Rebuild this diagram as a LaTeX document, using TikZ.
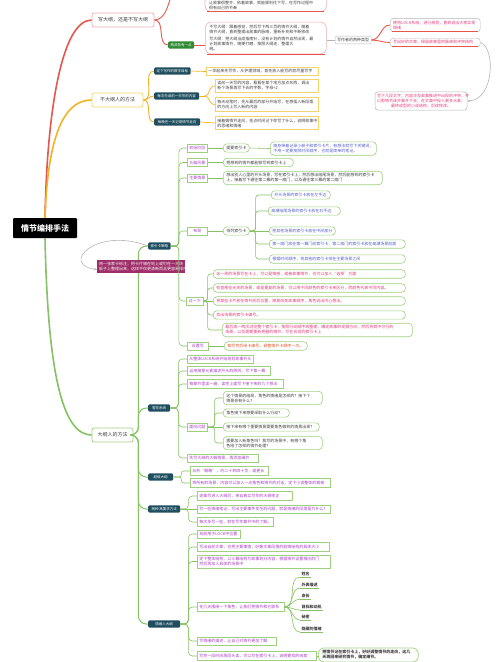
\documentclass[tikz,border=0pt]{standalone}
\usepackage{fontspec}
\setmainfont{Noto Sans CJK SC}
\usetikzlibrary{arrows.meta}
\definecolor{gL}{HTML}{86C263}
\definecolor{gB}{HTML}{9FD07F}
\definecolor{rL}{HTML}{E4574C}
\definecolor{oL}{HTML}{F2B225}
\definecolor{yB}{HTML}{F2D36E}
\definecolor{tagC}{HTML}{1F4E60}
\definecolor{tagG}{HTML}{2E8B34}
\definecolor{purT}{HTML}{A63FC4}
\definecolor{bluT}{HTML}{5560C8}
\definecolor{pnkT}{HTML}{E23C7C}
\definecolor{orT}{HTML}{E0562E}
\definecolor{dkT}{HTML}{404040}
\definecolor{plum}{HTML}{9E2E69}
\definecolor{grA}{HTML}{B5B5B5}
\definecolor{pkB}{HTML}{F0AEB0}
\newcommand\elb[5]{\draw[#1, rounded corners=#5] (#2.east) -- ++(#4,0) |- (#3.west);}
\newcommand\crv[3]{\draw[#1] (#2.east) to[out=0,in=180] (#3.west);}
\newcommand\uline[2]{\draw[#1] ([xshift=2pt]#2.south west) -- ([xshift=-2pt]#2.south east);}
\begin{document}
\begin{tikzpicture}[x=1pt,y=-1pt,
  tx/.style={font=\fontsize{4}{5}\selectfont, align=left, inner xsep=2pt, inner ysep=2.3pt, anchor=west, text=dkT},
  gr/.style={tx, draw=gB, line width=0.6pt, fill=white},
  grr/.style={gr, rounded corners=3.5pt, inner xsep=3pt},
  lab/.style={gr, text=purT, minimum width=20pt, align=center},
  tag/.style={tx, font=\fontsize{3.5}{4.5}\selectfont, fill=tagC, text=white, rounded corners=1.2pt, inner xsep=2.5pt, inner ysep=2pt, align=center},
  yb/.style={tx, draw=yB, line width=0.7pt, fill=white},
  mainbox/.style={tx, anchor=center, font=\fontsize{5}{6}\selectfont, fill=white, line width=0.8pt, rounded corners=2pt, minimum height=14pt, align=center},
  gl/.style={draw=gL, line width=0.6pt},
  gt/.style={draw=gL, line width=1pt},
  ol/.style={draw=oL, line width=0.9pt},
  rl/.style={draw=rL, line width=0.9pt},
  ga/.style={draw=grA, line width=0.6pt, -{Stealth[length=3pt,width=2.5pt]}},
  nm/.style={tx, anchor=south west, font=\fontsize{4}{5}\selectfont\bfseries, inner xsep=1.5pt, inner ysep=1.2pt}
]
\useasboundingbox (0,0) rectangle (500,662);

% ---------- root and main branches
\node[anchor=center, fill=black, text=white, font=\fontsize{8}{9}\selectfont\bfseries, minimum width=64pt, minimum height=20pt, rounded corners=1pt] (R) at (45,228) {情节编排手法};
\node[mainbox, draw=pkB, minimum width=62pt] (W) at (123,20) {写大纲，还是不写大纲};
\node[mainbox, draw=yB, minimum width=51pt] (N) at (117.5,100) {不大纲人的方法};
\node[mainbox, draw=gB, minimum width=41pt] (D) at (112.5,435) {大纲人的方法};
\draw[rL, line width=1.6pt] (R.north) .. controls (47,110) and (62,20) .. (W.west);
\draw[oL, line width=1.6pt] (R.north) .. controls (48,130) and (66,100) .. (N.west);
\draw[gL, line width=1.6pt] (R.south) .. controls (48,380) and (64,435) .. (D.west);

% ---------- top (red) section
\node[tx, anchor=south west, text width=113pt, inner xsep=4pt, inner ysep=1.3pt] (TB) at (205,11.5) {让故事很整齐，依着故事，就能顺利往下写，在写作过程中\\很有自己的节奏};
\draw[pkB, line width=0.6pt, rounded corners=6pt] (TB.north west) ++(0,-20) -- (TB.south west) -- (TB.south east) -- ++(0,-30);
\uline{rL, line width=1pt}{TB}
\coordinate (Wup) at (172,-8);
\draw[rl] (W.east) .. controls (164,20) and (168,8) .. (Wup);
\node[tag, fill=tagG] (G) at (168,45) {两派各有一点};
\draw[rl] (W.east) to[out=0,in=180] (G.west);
\node[tx, draw=pkB, line width=0.6pt, rounded corners=6pt, text width=113pt, inner xsep=4pt, inner ysep=3pt] (X) at (205,38) {不写大纲：跟着感觉，然后写下两三页的情节大纲，随着\\情节大纲，直到整理出故事的脉络，重新补充和不断修改\\[2pt]写大纲：把大纲当成指南针，没有计划的情节自然出现，最\\计划故事情节，随便打磨，按照大纲走，整理大\\纲。};
\uline{rL, line width=1pt}{X}
\draw[rl] (G.east) -- (G.east -| X.west);
\node[tx, draw=grA, line width=0.4pt, rounded corners=1pt, inner ysep=2pt] (WT) at (335,40) {写作者的两种类型};
\draw[grA, line width=0.6pt] (X.east |- WT.west) -- (WT.west);
\node[tx, text=pnkT, draw=grA, line width=0.4pt, rounded corners=3pt, text width=84pt, inner xsep=3pt] (WC1) at (390,25) {使用LOCK系统，进行规划，直到说出大家实现\\情绪};
\uline{rL, line width=1pt}{WC1}
\node[tx, text=pnkT, draw=grA, line width=0.4pt, rounded corners=3pt, text width=84pt, inner xsep=3pt] (WC2) at (390,42.5) {写出好的文章，保留故事里的脉络和冲突结构};
\uline{rL, line width=1pt}{WC2}
\crv{rl}{WT}{WC1}
\crv{rl}{WT}{WC2}
\node[tx, anchor=center, align=center, text=pnkT, draw=grA, line width=0.5pt, rounded corners=3pt, text width=88pt] (PB) at (421,101) {写下几段文字，内容涉及故事推进中出现的冲突，并\\以那情节逐步展开下去，在文章中投入更多元素，\\最终成型的小说结构，后续修改。};
\draw[ga] (WC2.east) .. controls (496,48) and (494,100) .. (PB.east);

% ---------- orange section
\node[tag, minimum width=34pt] (T1) at (154,71) {定下写作的数字目标};
\node[tag, minimum width=45pt] (T2) at (154,96) {每次先读前一天写的内容};
\node[tag, minimum width=46pt] (T3) at (154,122) {每晚在一天记录情节走向};
\crv{ol}{N}{T1}
\crv{ol}{N}{T2}
\crv{ol}{N}{T3}
\node[yb, text width=108pt] (Y1) at (206,71.5) {一早起来先写作，从护理领域，首先放入能写的就尽量写字};
\draw[ol, line width=0.7pt] (T1.east) -- (Y1.west);
\node[yb, text width=99pt] (Y2a) at (215,86) {读前一天写的内容，看看在某个地方加点东西，调出\\新个场景再写下去的字数，字母+2};
\node[yb, text width=99pt] (Y2b) at (215,104.5) {每天动笔时，先从最后的部分开始写，在想插入新段落\\的方向上写入新的内容};
\coordinate (Bk) at (205,96);
\draw[ol, line width=0.7pt] (T2.east) -- (Bk);
\draw[ol, line width=0.7pt] (Y2a.west) .. controls (208,86) and (210,96) .. (Bk) .. controls (210,96) and (208,104.5) .. (Y2b.west);
\node[yb, text width=99pt] (Y3) at (215,123) {接着做情节走向，花点时间记下你写了什么，说明故事中\\的思绪和情绪};
\draw[ol, line width=0.7pt] (T3.east) -- (Y3.west);

% ---------- green tags from D
\node[tag] (S0) at (148,246) {索引卡策略};
\node[tag, minimum width=22pt] (S1) at (148,408) {雪花系统};
\node[tag, minimum width=25pt] (S2) at (148,477) {超级大纲};
\node[tag, minimum width=32pt] (S3) at (148,509) {两种 高要求方法};
\node[tag, minimum width=32pt] (S4) at (148,624) {情绪人大纲};
\elb{gt}{D}{S0}{5}{8pt}
\elb{gt}{D}{S1}{5}{8pt}
\elb{gt}{D}{S2}{5}{8pt}
\elb{gt}{D}{S3}{5}{8pt}
\elb{gt}{D}{S4}{5}{8pt}

% ---------- index card strategy
\node[tx, fill=plum, text=white, text width=84pt, inner ysep=2.5pt] (P) at (97,266.5) {用一张索卡标注，把卡片铺在地上或钉在一大块\\板子上整理出来，这样不仅更清晰而且更容易排序};
\draw[ga] (S0.west) .. controls (95,226) and (60,265) .. ([yshift=-3pt]P.west);

\node[lab] (K1) at (187,148) {初始阶段};
\node[lab] (K2) at (187,162.5) {头脑风暴};
\node[lab] (K3) at (187,178) {主要情景};
\node[lab] (K4) at (187,231) {布局};
\node[lab, minimum width=17pt] (K5) at (186,301) {过一下};
\node[lab, minimum width=21pt] (K6) at (187,346) {设置写};
\foreach \k in {K1,K2,K3,K4,K5,K6}{\elb{gl}{S0}{\k}{8}{4pt}}

\node[grr] (K1a) at (223,148) {提要索引卡};
\node[grr, text=bluT, text width=100pt] (K1b) at (270,148.5) {随身带着记录小册子和索引卡片，有想法就写下关键词，\\不用一定要按照时间顺序，也就是简单的笔记。};
\draw[gl] (K1.east) -- (K1a.west);
\draw[gl] (K1a.east) -- (K1b.west);
\node[grr, text width=64pt] (K2a) at (223,162.5) {把想到的情节都能够写到索引卡上};
\draw[gl] (K2.east) -- (K2a.west);
\node[grr, text width=153pt] (K3a) at (223,178) {想出别人心里的开头场景，写在索引卡上，然后想出结尾场景，然后能想到的索引卡\\上，接着写下通往第二幕的第一扇门，以及通往第三幕的第二扇门};
\draw[gl] (K3.east) -- (K3a.west);
\node[grr] (K4a) at (223,231) {排列索引卡};
\draw[gl] (K4.east) -- (K4a.west);
\node[grr, text=bluT, text width=53pt] (K4b1) at (271,195) {开头场景的索引卡放在左手边};
\node[grr, text=bluT, text width=66pt] (K4b2) at (268,211) {高潮结尾场景的索引卡放在右手边};
\node[grr, text=bluT, text width=60pt] (K4b3) at (269,231) {把其他场景的索引卡放在中间部分};
\node[grr, text=bluT, text width=130pt] (K4b4) at (269,244) {第一扇门放在第一幕门前索引卡，第二扇门的索引卡放在高潮场景前面};
\node[grr, text=bluT, text width=130pt] (K4b5) at (269,259) {根据时间顺序，将其他的索引卡排在主要场景之间};
\elb{gl}{K4a}{K4b1}{6}{3pt}
\elb{gl}{K4a}{K4b2}{6}{3pt}
\draw[gl] (K4a.east) -- (K4b3.west);
\elb{gl}{K4a}{K4b4}{6}{3pt}
\elb{gl}{K4a}{K4b5}{6}{3pt}
\node[grr, text=pnkT, text width=186pt] (K5b1) at (213,274) {这一周的场景写在卡上，可以是情感，或者故事情节，也可以加入“选择”方面};
\node[grr, text=pnkT, text width=186pt] (K5b2) at (213,288) {检查那些无关的场景，或是重复的场景，可以用不同颜色的索引卡来区分，而颜色代表不同内容。};
\node[grr, text=pnkT, text width=186pt] (K5b3) at (213,301) {将某些卡片放在情节前后位置，随意改变故事顺序，角色说出内心想法。};
\node[grr, text=pnkT, text width=186pt] (K5b4) at (213,315) {找出场景的索引卡编号。};
\node[grr, text=pnkT, text width=184pt] (K5b5) at (222,330) {最后再一两次浏览整个索引卡，按照行动顺序再整理，确定故事的发展方向，然后将其中可行的\\场景，以及需要重新把握的情节，写在合适的索引卡上};
\elb{gl}{K5}{K5b1}{4}{3pt}
\elb{gl}{K5}{K5b2}{4}{3pt}
\draw[gl] (K5.east) -- (K5b3.west);
\elb{gl}{K5}{K5b4}{4}{3pt}
\elb{gl}{K5}{K5b5}{4}{3pt}
\node[grr, text=orT, text width=77pt] (K6a) at (224,346) {每写完后给卡编号，调整情节卡顺序一次。};
\draw[gl] (K6.east) -- (K6a.west);

% ---------- snowflake
\node[gr, text=purT, text width=62pt] (L1) at (187,359) {从整体LOCK系统开始规划故事开头};
\node[gr, text=purT, text width=79pt] (L2) at (187,371) {运用随意元素描述开头的原则，写下第一幕};
\node[gr, text=purT, text width=92pt] (L3) at (187,384) {每章节里读一遍，读完上面写下接下来的几个想法};
\node[lab] (L4) at (187,427) {面向问题};
\node[gr, text=purT, text width=67pt] (L5) at (187,458) {先写大纲的大概情景，再添加细节};
\foreach \k in {L1,L2,L3,L4,L5}{\elb{gl}{S1}{\k}{8}{4pt}}
\node[grr, text width=93pt] (Q1) at (223,398) {这个情景的结局，角色的情绪是怎样的？接下个\\情景会有什么？};
\node[grr, text width=60pt] (Q2) at (223,413) {角色接下来想要采取什么行动？};
\node[grr, text width=90pt] (Q3) at (223,427) {接下来有哪个重要情景需要角色做到的情景出现？};
\node[grr, text width=93pt] (Q4) at (223,443) {需要加入新角色吗？我写的场景中，有哪个角\\色给了怎样的情节处理？};
\elb{gl}{L4}{Q1}{7}{3pt}
\elb{gl}{L4}{Q2}{7}{3pt}
\draw[gl] (L4.east) -- (Q3.west);
\elb{gl}{L4}{Q4}{7}{3pt}

% ---------- super outline
\node[gr, text=purT, text width=74pt] (M1) at (190,471) {五秒“概略”，约二十到四十页，或更长};
\node[gr, text=purT, text width=136pt] (M2) at (190,483) {将所有的场景，内容可以加入一点角色和情节的对话，定下小说整体的框架};
\elb{gl}{S2}{M1}{8}{2.5pt}
\elb{gl}{S2}{M2}{8}{2.5pt}

% ---------- two methods
\node[gr, text=purT, text width=91pt] (R1) at (197,496) {逐章写进入大纲后，来自真实写作的大纲修正};
\node[gr, text=purT, text width=129pt] (R2) at (197,509) {写一些情绪笔记，写出主要事件发生的问题，就是情绪的段落是为什么？};
\node[gr, text=purT, text width=72pt] (R3) at (197,522) {每次多写一些，就在写作章节中的了解。};
\elb{gl}{S3}{R1}{8}{4pt}
\draw[gl] (S3.east) -- (R2.west);
\elb{gl}{S3}{R3}{8}{4pt}

% ---------- emotion outline
\node[gr, text=purT, text width=39pt] (E1) at (197,534) {目前用于LOCK中位置};
\node[gr, text=purT, text width=128pt] (E2) at (197,547) {写出自前文章，也把主要事情，好像文章段落的剧情结构的具体大小};
\node[gr, text=purT, text width=129pt] (E3) at (197,561.5) {定下整体结构，以三幕结构为故事划分内容，根据情节设置相应的门\\然后再加入具体的场景中};
\node[gr, text=purT, text width=83pt] (E4) at (197,607) {花几天围绕一下角色，让我们把情节和它联系};
\node[gr, text=purT, text width=75pt] (E5) at (197,641) {写情绪的描述，让自己对情节更加了解};
\node[gr, text=purT, text width=115pt] (E6) at (197,656) {写完一段时间再回头读，可以写在索引卡上，说明要找的线索};
\foreach \k in {E1,E2,E3,E4,E5,E6}{\elb{gl}{S4}{\k}{8}{4pt}}
\node[nm] (C1) at (300,577) {姓名};
\node[nm] (C2) at (300,588) {外表描述};
\node[nm] (C3) at (300,599) {身份};
\node[nm] (C4) at (300,610) {目标和动机};
\node[nm] (C5) at (300,620) {秘密};
\node[nm] (C6) at (300,632) {隐藏的情绪};
\foreach \c in {C1,C2,C3,C4,C5,C6}{
  \draw[gl] (\c.south west) -- (\c.south east);
  \draw[gl] (E4.east) to[out=0,in=180] (\c.south west);
}
\node[tx, draw=gB, line width=0.7pt, rounded corners=6pt, text width=92pt, inner xsep=4pt, inner ysep=2.5pt, font=\fontsize{4}{5}\selectfont\bfseries] (B) at (318,655) {把情节记在索引卡上，好好调整情节的走向，这几\\天再回来研究情节，确定细节。};
\draw[gl] (E6.east) -- (E6.east -| B.west);
\end{tikzpicture}
\end{document}
